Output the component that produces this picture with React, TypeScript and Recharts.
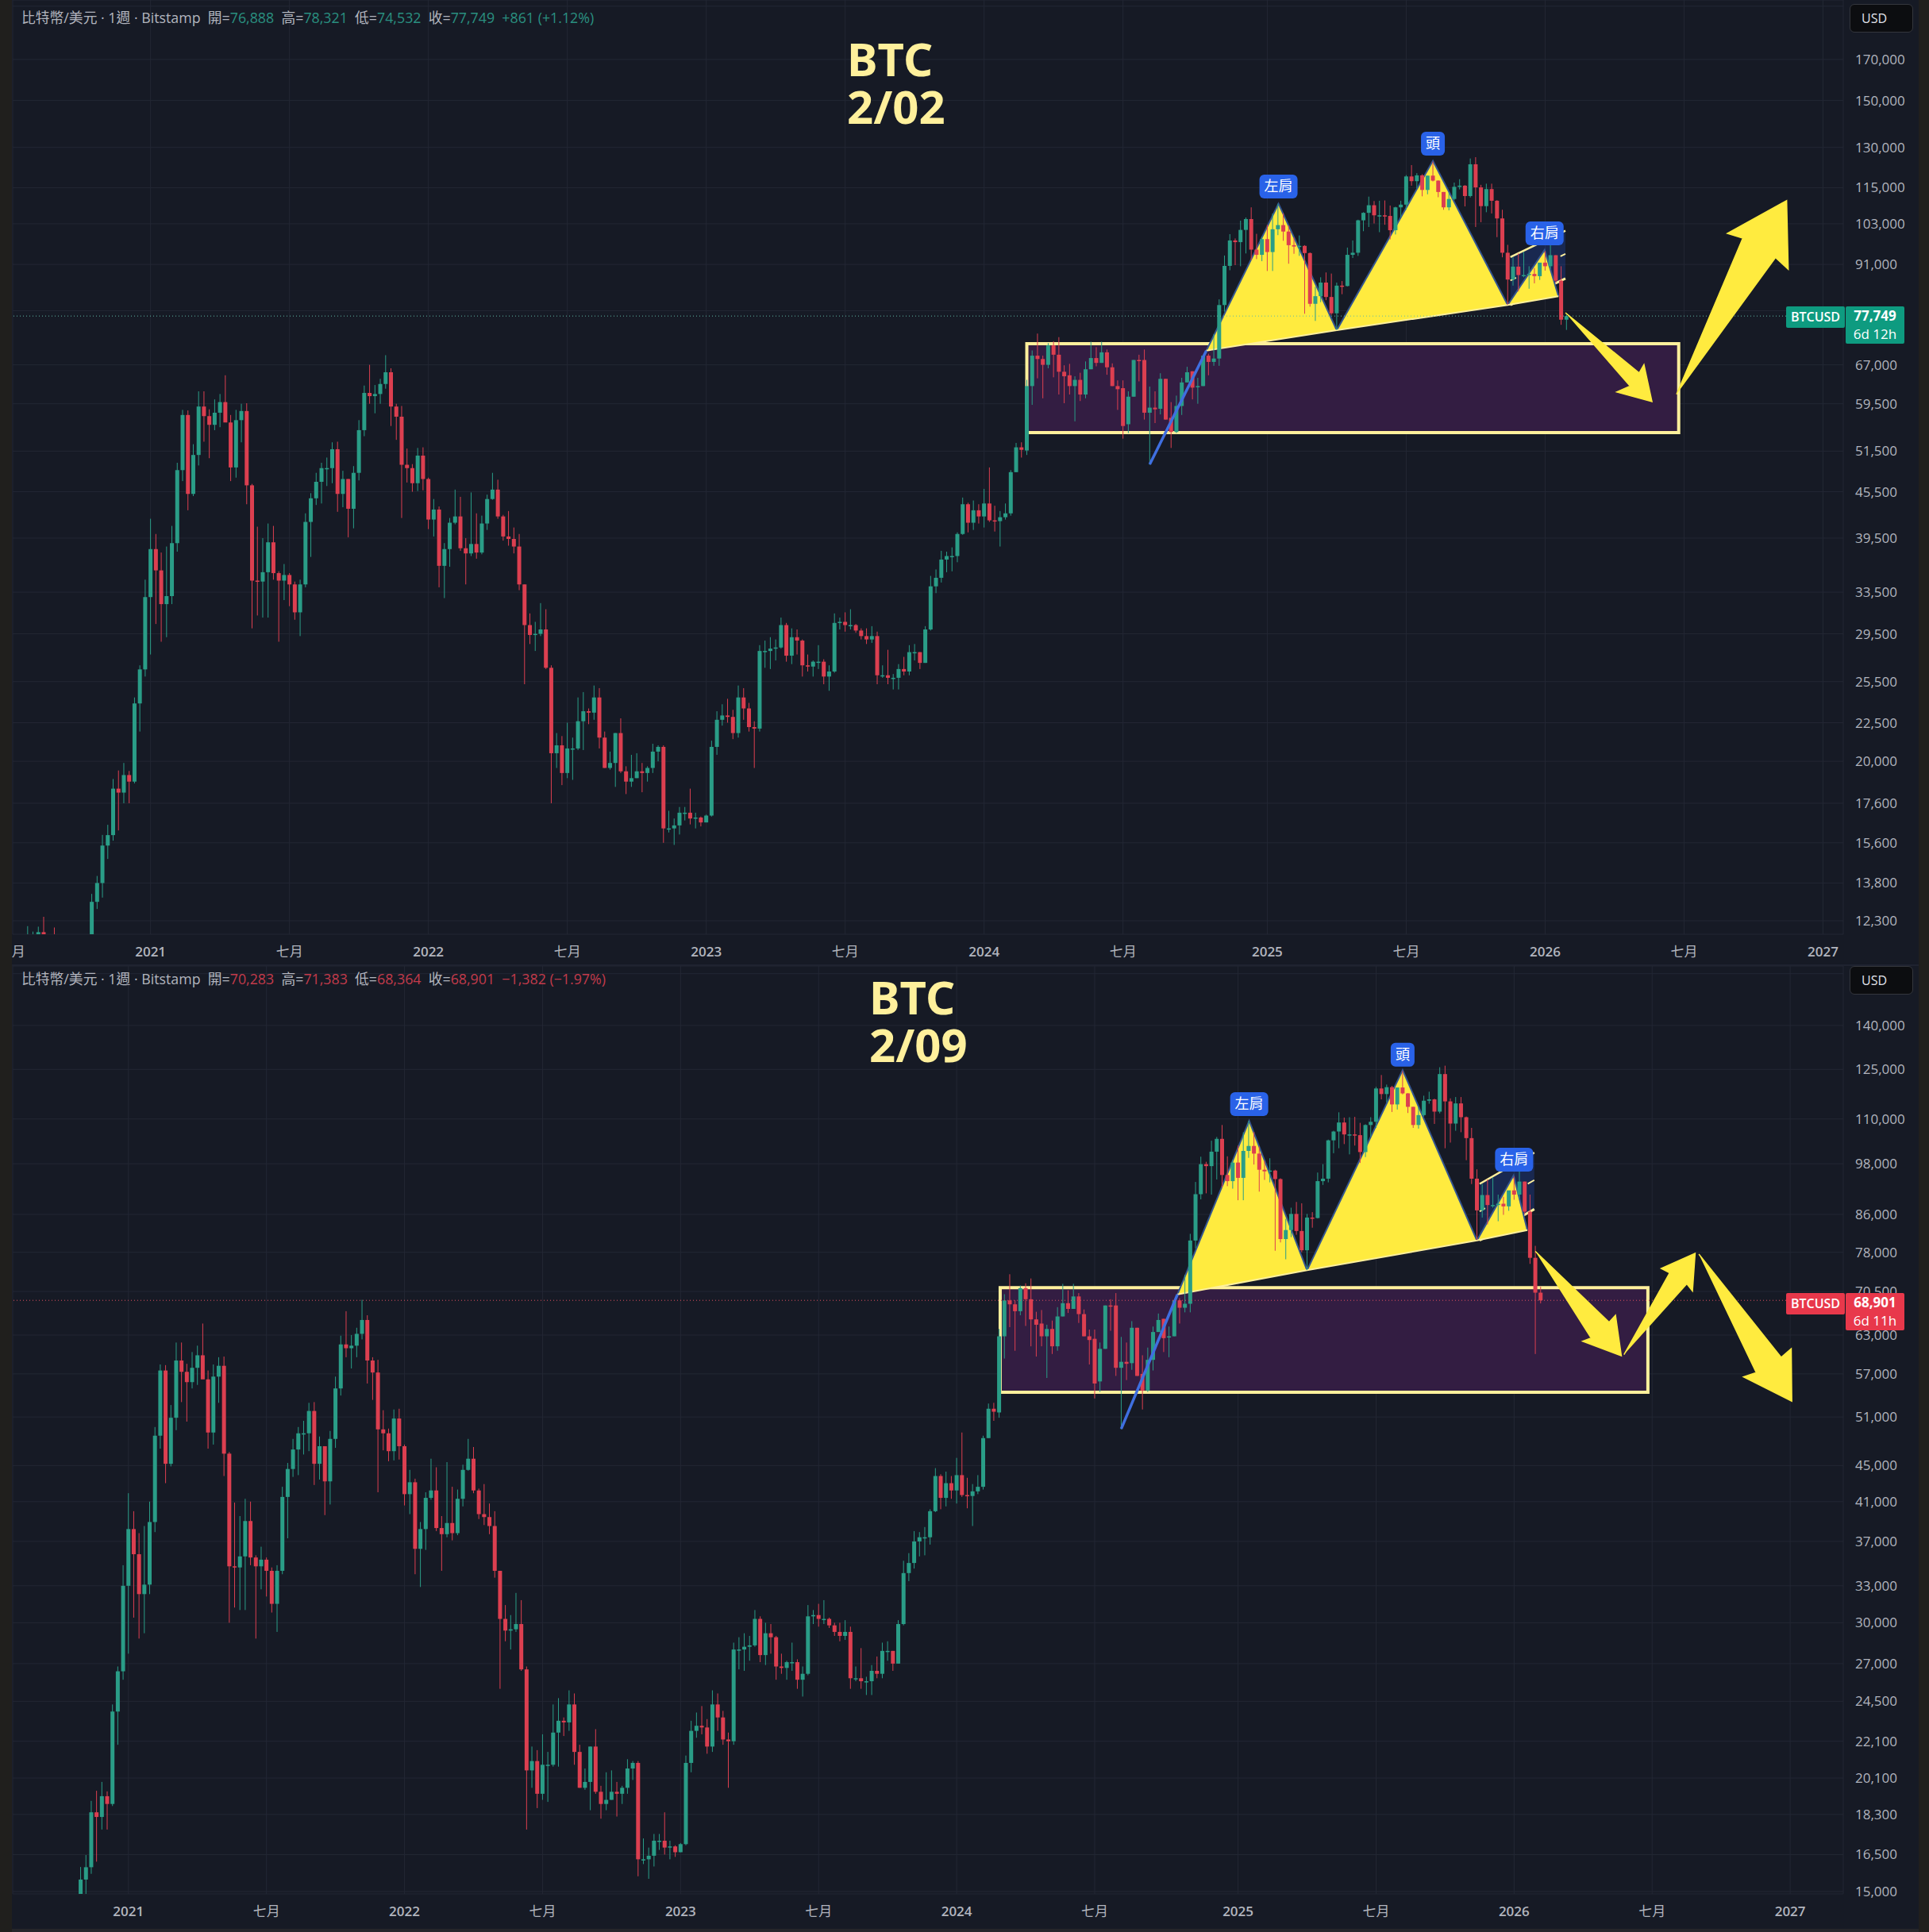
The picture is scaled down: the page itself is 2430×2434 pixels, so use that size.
import { Bar, CartesianGrid, ComposedChart, ReferenceArea, ReferenceLine, Scatter, XAxis, YAxis } from 'recharts'

// Velas semanais BTC/USD (Bitstamp). Índice 0 = semana de 04/01/2021.
const firstWeek = -23

const opens = [
  10950, 11060, 11640, 11880, 11650, 11700, 10280, 10320, 10780, 10770, 10670, 11380, 11500, 13030, 13800, 15470, 15970, 18400, 18180, 19180, 18800, 23860, 26470,
  33000, 38200, 35800, 32300, 33100, 38900, 48600, 57500, 45200, 50900, 59000, 57300, 55800, 57900, 59800, 56200, 49000, 56600, 58200, 46400, 34700, 34600, 35600, 39000, 35500, 34700, 35300, 34300, 31500, 34300, 41500, 44600, 46900, 48900, 48900, 51800, 45200, 47300, 43200, 48200, 54900, 61500, 60900, 61300, 63200, 65500, 59000, 57200, 49400, 48900, 46700, 50800,
  47300, 41800, 43100, 36300, 38200, 41400, 42200, 38300, 37700, 38800, 37800, 41300, 44500, 45800, 42200, 39700, 39400, 38500, 34300, 30300, 29400, 29500, 29900, 26600, 20500, 21000, 19300, 20800, 20800, 22600, 23300, 23200, 24300, 21500, 19600, 19900, 21800, 19400, 18800, 19000, 19400, 19300, 19600, 20600, 20900, 16300, 16300, 16450, 17100, 17100, 16800, 16850,
  16600, 16950, 20900, 22700, 23000, 22900, 21800, 24300, 23500, 22200, 22100, 28000, 28000, 28200, 28300, 30300, 27600, 29200, 28900, 26800, 26700, 27100, 27100, 25900, 26300, 30500, 30600, 30300, 30300, 29800, 29300, 29000, 29300, 26000, 26000, 25800, 25800, 26500, 26300, 27900, 27900, 27000, 29900, 34100, 35000, 37000, 37400, 37400, 40000, 43800, 41400, 43000,
  42200, 43900, 41700, 41600, 42100, 42600, 48300, 52100, 51600, 62800, 68900, 68200, 67000, 71100, 69100, 65600, 64900, 62800, 64000, 61200, 66100, 68400, 67400, 69600, 66500, 62800, 62400, 55900, 60800, 68000, 68000, 57900, 58800, 58600, 64200, 57000, 54600, 59100, 63500, 65700, 62600, 62800, 68900, 67600, 68300, 80400, 90600, 97900, 97400, 101100, 104500, 95200, 93700,
  98300, 94500, 101300, 102600, 100600, 96500, 96100, 96300, 94200, 80700, 82600, 86100, 82400, 78400, 85300, 85200, 93700, 94300, 104100, 106500, 109000, 105700, 105700, 105500, 101000, 108300, 109200, 119000, 117300, 119400, 114200, 119300, 117500, 113500, 108300, 111100, 115300, 115700, 112100, 123500, 115100, 108700, 114500, 110500, 104700, 94300, 86900, 90400, 88100, 88100, 88400, 87800, 91500, 90500, 93600, 86600,
]
const highs = [
  12100, 11900, 12080, 12450, 11800, 12050, 10600, 11180, 10800, 10950, 11500, 11720, 13350, 14100, 15980, 16480, 18950, 19450, 19900, 19420, 24300, 26800, 34800,
  41900, 40000, 37800, 38500, 41000, 49700, 58400, 58300, 52600, 61800, 61800, 58500, 60300, 61300, 64900, 57500, 58400, 59500, 59600, 46600, 40900, 39500, 41300, 41000, 35700, 36500, 35500, 34600, 34800, 42600, 45300, 48200, 49700, 50500, 52900, 53000, 48500, 47300, 49200, 56600, 62900, 67000, 63000, 64200, 69000, 66300, 59500, 59100, 51900, 49500, 52000, 52100,
  47500, 44500, 43500, 38900, 42000, 45800, 44800, 39500, 45400, 42600, 42300, 45100, 48200, 47200, 42400, 42900, 40800, 40000, 34300, 31400, 30600, 32400, 31800, 26800, 21800, 21600, 22500, 21500, 24300, 24700, 23500, 25200, 25000, 21900, 20600, 21800, 22800, 19700, 20400, 20500, 19900, 19700, 21100, 21000, 21000, 17200, 16800, 17400, 17400, 18400, 17100, 16900,
  17000, 21300, 23300, 23800, 24200, 23400, 25200, 25000, 23900, 22600, 28500, 28900, 29200, 29000, 31000, 30500, 30000, 29900, 29000, 27700, 27200, 28500, 27300, 26800, 31400, 31000, 31500, 31800, 30400, 30000, 30000, 30200, 29700, 26800, 28100, 26100, 26900, 27500, 28500, 28600, 27900, 30200, 35200, 35900, 38000, 37900, 38400, 40200, 44700, 44000, 44300, 43800,
  45900, 49000, 43600, 42900, 43900, 48600, 52800, 52900, 64000, 70000, 73700, 68900, 71600, 72000, 72900, 66900, 67200, 64700, 65400, 67700, 71900, 70700, 71900, 70200, 67300, 63900, 63900, 61800, 68000, 69100, 70200, 62700, 61800, 65300, 64200, 59800, 61000, 64400, 66600, 65700, 64400, 68900, 69300, 73600, 81800, 93500, 99800, 98500, 104000, 105000, 108300, 99900, 99000,
  102700, 106300, 109500, 106400, 102500, 98800, 99400, 96500, 94400, 85000, 87500, 88800, 88500, 86100, 86500, 95800, 97900, 104300, 106700, 111900, 110400, 110500, 110600, 108900, 108500, 110500, 119500, 123200, 120200, 119800, 119300, 124500, 117600, 113500, 113400, 116800, 118000, 115900, 125700, 126200, 116000, 116400, 116400, 110700, 107500, 96600, 93000, 94100, 94600, 90500, 90000, 90400, 94800, 97900, 93600, 90500,
]
const lows = [
  10600, 11000, 11150, 11300, 11150, 9900, 9850, 10200, 10130, 10350, 10530, 11200, 11400, 12750, 13200, 14850, 15700, 16200, 17600, 17600, 18700, 21900, 25900,
  27700, 30400, 28800, 29200, 32300, 37900, 47000, 43000, 44900, 49300, 53000, 50400, 54900, 55400, 58900, 47000, 47500, 52900, 43800, 30000, 31200, 31000, 31000, 34800, 28800, 32700, 32100, 30800, 29300, 34000, 37300, 43700, 43900, 46300, 46700, 42800, 43400, 39600, 40700, 47100, 53900, 59500, 57800, 59500, 62300, 55600, 53300, 42000, 46800, 45500, 45600, 45700,
  40600, 39700, 34000, 32900, 36200, 41200, 38000, 34300, 37400, 37100, 37600, 40500, 44400, 41900, 39200, 38600, 37700, 33700, 25300, 28600, 28000, 29300, 26500, 17600, 19600, 18600, 19000, 18900, 20700, 20700, 22400, 22700, 20800, 19600, 19500, 18500, 19300, 18100, 18500, 19000, 18200, 18800, 19300, 20000, 15600, 16100, 15500, 16000, 16700, 16500, 16300, 16400,
  16600, 16900, 20400, 22300, 22500, 21400, 21500, 22700, 21900, 19600, 21900, 26600, 26500, 27200, 28200, 27100, 26900, 27700, 25900, 26300, 25900, 26500, 25300, 24800, 26200, 29900, 29700, 29900, 29600, 29000, 28600, 28700, 25300, 25800, 25300, 24900, 24900, 26000, 26000, 27200, 26500, 27000, 29800, 33400, 34500, 35600, 35700, 36700, 39900, 40200, 40500, 41300,
  40800, 41500, 40300, 38500, 41800, 42300, 48300, 50500, 50900, 59300, 64300, 60500, 66300, 64500, 61200, 59600, 61200, 56400, 60000, 60500, 66100, 66700, 67400, 65000, 62800, 58400, 53500, 54400, 60800, 63700, 56700, 49400, 56100, 57600, 56700, 52000, 54400, 57500, 63500, 60300, 59500, 62800, 64900, 66800, 66800, 78800, 89400, 90800, 90500, 94100, 92200, 92500, 91900,
  89200, 89200, 99500, 97800, 91200, 94000, 93400, 78300, 80000, 76600, 81100, 81600, 78000, 74500, 83100, 85100, 92800, 93400, 100700, 102000, 103100, 100400, 102700, 98200, 99700, 105100, 107500, 115700, 114800, 112000, 112700, 117200, 111700, 107500, 107300, 110700, 114400, 108600, 111600, 102000, 103500, 106700, 106300, 98900, 93000, 80500, 85300, 83800, 87500, 84500, 85900, 86800, 89300, 89600, 86000, 75700,
]
const closes = [
  11060, 11640, 11880, 11650, 11700, 10280, 10320, 10780, 10770, 10670, 11380, 11500, 13030, 13800, 15470, 15970, 18400, 18180, 19180, 18800, 23860, 26470, 33000,
  38200, 35800, 32300, 33100, 38900, 48600, 57500, 45200, 50900, 59000, 57300, 55800, 57900, 59800, 56200, 49000, 56600, 58200, 46400, 34700, 34600, 35600, 39000, 35500, 34700, 35300, 34300, 31500, 34300, 41500, 44600, 46900, 48900, 48900, 51800, 45200, 47300, 43200, 48200, 54900, 61500, 60900, 61300, 63200, 65500, 59000, 57200, 49400, 48900, 46700, 50800, 47300,
  41800, 43100, 36300, 38200, 41400, 42200, 38300, 37700, 38800, 37800, 41300, 44500, 45800, 42200, 39700, 39400, 38500, 34300, 30300, 29400, 29500, 29900, 26600, 20500, 21000, 19300, 20800, 20800, 22600, 23300, 23200, 24300, 21500, 19600, 19900, 21800, 19400, 18800, 19000, 19400, 19300, 19600, 20600, 20900, 16300, 16300, 16450, 17100, 17100, 16800, 16850, 16600,
  16950, 20900, 22700, 23000, 22900, 21800, 24300, 23500, 22200, 22100, 28000, 28000, 28200, 28300, 30300, 27600, 29200, 28900, 26800, 26700, 27100, 27100, 25900, 26300, 30500, 30600, 30300, 30300, 29800, 29300, 29000, 29300, 26000, 26000, 25800, 25800, 26500, 26300, 27900, 27900, 27000, 29900, 34100, 35000, 37000, 37400, 37400, 40000, 43800, 41400, 43000, 42200,
  43900, 41700, 41600, 42100, 42600, 48300, 52100, 51700, 62800, 68900, 68200, 67000, 71100, 69100, 65600, 64700, 62800, 64000, 61200, 66100, 68400, 67400, 69600, 66500, 62800, 62200, 55600, 60800, 68000, 67900, 57900, 58800, 58500, 64200, 56700, 54600, 59100, 63500, 65500, 62500, 62800, 68900, 67600, 68300, 80400, 90600, 97900, 97400, 101100, 104500, 95200, 93700, 98300,
  94500, 101300, 102600, 100600, 96500, 96100, 96300, 94200, 80700, 82600, 86100, 82400, 78400, 85300, 85200, 93700, 94300, 104100, 106500, 109000, 105700, 105700, 105500, 101000, 108300, 109200, 119000, 117300, 119400, 114200, 119300, 117500, 113500, 108300, 111100, 115300, 115700, 112100, 123500, 115100, 108700, 114500, 110500, 104700, 94300, 86900, 90400, 88100, 88100, 88400, 87800, 91500, 90500, 93600, 86600, 76888,
]

// Últimas velas de cada painel: [abertura, máxima, mínima, fechamento]
const lastBarsTop = [[76888, 78321, 74532, 77749]]
const lastBarsBottom = [[76888, 79300, 60000, 70283], [70283, 71383, 68364, 68901]]

const timeTickValues = [-26, 0, 26, 52, 78, 104, 130, 156, 182, 209, 235, 261, 287, 313]
const timeTickLabels = ['七月', '2021', '七月', '2022', '七月', '2023', '七月', '2024', '七月', '2025', '七月', '2026', '七月', '2027']

const priceTicksTop = [200000, 170000, 150000, 130000, 115000, 103000, 91000, 79000, 67000, 59500, 51500, 45500, 39500, 33500, 29500, 25500, 22500, 20000, 17600, 15600, 13800, 12300]
const priceTicksBottom = [160000, 140000, 125000, 110000, 98000, 86000, 78000, 70500, 63000, 57000, 51000, 45000, 41000, 37000, 33000, 30000, 27000, 24500, 22100, 20100, 18300, 16500, 15000]
// Só linha de grade, o rótulo fica atrás da caixa USD
const gridOnlyPrices = [200000, 160000]

// Desenhos do padrão OCO (semana, preço)
const leftShoulder = [{ i: 197.6, p: 69970 }, { i: 211.1, p: 109500 }, { i: 222, p: 74460 }]
const headPeak = [{ i: 222, p: 74460 }, { i: 240, p: 124800 }, { i: 254, p: 80410 }]
const rightShoulder = [{ i: 254, p: 80410 }, { i: 260.9, p: 95100 }, { i: 263.5, p: 82570 }]
const neckline = [{ i: 197.6, p: 69970 }, { i: 222, p: 74460 }, { i: 254, p: 80410 }, { i: 263.5, p: 82570 }]
const blueTrend = [{ i: 187, p: 49470 }, { i: 197.6, p: 69970 }]
const channelBand = [{ i: 254.5, p: 93040 }, { i: 264.8, p: 100860 }, { i: 264.8, p: 87160 }, { i: 254.5, p: 80410 }]
const channelUpper = [{ i: 254.5, p: 93040 }, { i: 264.8, p: 100860 }]
const channelMiddle = [{ i: 254.5, p: 86660 }, { i: 264.8, p: 93950 }]
const channelLower = [{ i: 254.5, p: 80410 }, { i: 264.8, p: 87160 }]

const arrowsTop = [
  [{ i: 264.8, p: 78540 }, { i: 278.6, p: 65350 }, { i: 279.5, p: 67060 }, { i: 281, p: 59890 }, { i: 274.4, p: 61660 }, { i: 276.8, p: 62740 }],
  [{ i: 285.6, p: 61250 }, { i: 298, p: 98600 }, { i: 295.1, p: 100040 }, { i: 306.2, p: 110570 }, { i: 306.5, p: 89660 }, { i: 304.2, p: 92800 }],
]
const arrowsBottom = [
  [{ i: 265, p: 78190 }, { i: 278.9, p: 65110 }, { i: 280.1, p: 66300 }, { i: 281.2, p: 59730 }, { i: 273.9, p: 62000 }, { i: 275.4, p: 62480 }],
  [{ i: 281.7, p: 59900 }, { i: 290.3, p: 73960 }, { i: 288.7, p: 74810 }, { i: 295.1, p: 77800 }, { i: 294.6, p: 70570 }, { i: 293.6, p: 71820 }],
  [{ i: 295.8, p: 77630 }, { i: 311.3, p: 59490 }, { i: 313.2, p: 60840 }, { i: 313.3, p: 53120 }, { i: 304.2, p: 56560 }, { i: 306.5, p: 57150 }],
]

const labelsTop = [{ i: 211.1, p: 115400, text: '左肩' }, { i: 240, p: 131500, text: '頭' }, { i: 260.9, p: 100050, text: '右肩' }]
const labelsBottom = [{ i: 211.1, p: 114300, text: '左肩' }, { i: 240, p: 129800, text: '頭' }, { i: 261, p: 99050, text: '右肩' }]

const UP = '#2a9d87'
const DOWN = '#dc3f50'
const BG = '#161a25'
const GRID = '#232734'
const YELLOW = '#ffeb3f'
const PALE = '#fff09c'
const FONT = '"Open Sans", "Noto Sans CJK TC", sans-serif'
const BODY_WIDTH = 5

function buildRows(lastBars: number[][], from: number) {
  const rows = opens.map((o, n) => ({ i: firstWeek + n, o, h: highs[n], l: lows[n], c: closes[n] }))
  lastBars.forEach((b, n) => rows.push({ i: firstWeek + opens.length + n, o: b[0], h: b[1], l: b[2], c: b[3] }))
  return rows.filter((r) => r.i >= from).map((r) => ({ ...r, range: [r.l, r.h] }))
}

function Candle(props: any) {
  const { x, y, width, height, payload } = props
  if (!payload || !Number.isFinite(y) || !Number.isFinite(height)) return null
  const { o, h, l, c } = payload
  const span = Math.log(h / l) || 1
  const yOf = (v: number) => y + (height * Math.log(h / v)) / span
  const color = c >= o ? UP : DOWN
  const top = Math.min(yOf(o), yOf(c))
  const bodyH = Math.max(Math.abs(yOf(o) - yOf(c)), 1.5)
  const mid = x + width / 2
  return (
    <g>
      <line x1={mid} x2={mid} y1={y} y2={y + height} stroke={color} strokeWidth={1} />
      <rect x={mid - BODY_WIDTH / 2} y={top} width={BODY_WIDTH} height={bodyH} fill={color} />
    </g>
  )
}

function NoDot() {
  return null
}

function PatternLabel(props: any) {
  const { cx, cy, payload } = props
  const w = payload.text.length > 1 ? 48 : 30
  return (
    <g>
      <rect x={cx - w / 2} y={cy - 15} width={w} height={30} rx={6} fill="#2962e8" />
      <text x={cx} y={cy + 6} textAnchor="middle" fontSize={18} fontFamily={FONT} fill="#ffffff">{payload.text}</text>
    </g>
  )
}

function TimeTick(props: any) {
  const { x, y, payload } = props
  const label = timeTickLabels[timeTickValues.indexOf(payload.value)]
  const isYear = label && label.length === 4
  return (
    <text x={x} y={y + 26} textAnchor="middle" fontSize={17} fontFamily={FONT} fontWeight={isYear ? 600 : 400} fill="#b2b5be">{label}</text>
  )
}

interface PanelProps {
  rows: any[]
  xDomain: number[]
  yDomain: number[]
  priceTicks: number[]
  box: { x1: number; x2: number; y1: number; y2: number }
  arrows: { i: number; p: number }[][]
  labels: { i: number; p: number; text: string }[]
  last: number
  lastColor: string
  height: number
  axisHeight: number
}

function Panel({ rows, xDomain, yDomain, priceTicks, box, arrows, labels, last, lastColor, height, axisHeight }: PanelProps) {
  const patches = [leftShoulder, headPeak, rightShoulder]
  return (
    <ComposedChart width={2430} height={height} data={rows} margin={{ top: 0, right: 0, bottom: 0, left: 16 }}>
      <CartesianGrid stroke={GRID} strokeWidth={1} />
      <XAxis dataKey="i" type="number" domain={xDomain} ticks={timeTickValues} interval={0} allowDataOverflow height={axisHeight} axisLine={false} tickLine={false} tickSize={0} tick={TimeTick} />
      <YAxis orientation="right" type="number" scale="log" domain={yDomain} ticks={priceTicks} interval={0} allowDataOverflow width={108} axisLine={false} tickLine={false} tickSize={0} tickMargin={15} tick={{ fill: '#b2b5be', fontSize: 17, fontFamily: FONT }} tickFormatter={(v: number) => (gridOnlyPrices.includes(v) ? '' : v.toLocaleString('en-US'))} />
      <ReferenceArea x1={box.x1} x2={box.x2} y1={box.y1} y2={box.y2} fill="#331d42" fillOpacity={1} stroke={PALE} strokeWidth={4} zIndex={50} />
      <Scatter data={channelBand} dataKey="p" shape={NoDot} isAnimationActive={false} line={{ fill: '#2962ff', fillOpacity: 0.2, stroke: 'none' }} zIndex={100} />
      <Scatter data={channelUpper} dataKey="p" shape={NoDot} isAnimationActive={false} line={{ stroke: PALE, strokeWidth: 2.5 }} zIndex={110} />
      <Scatter data={channelMiddle} dataKey="p" shape={NoDot} isAnimationActive={false} line={{ stroke: PALE, strokeWidth: 2, strokeDasharray: '8 62 10' }} zIndex={110} />
      <Scatter data={channelLower} dataKey="p" shape={NoDot} isAnimationActive={false} line={{ stroke: PALE, strokeWidth: 3 }} zIndex={110} />
      {patches.map((pts, n) => (
        <Scatter key={n} data={pts} dataKey="p" shape={NoDot} isAnimationActive={false} line={{ fill: YELLOW, stroke: '#35568f', strokeWidth: 2 }} zIndex={120} />
      ))}
      <Scatter data={neckline} dataKey="p" shape={NoDot} isAnimationActive={false} line={{ stroke: PALE, strokeWidth: 2 }} zIndex={130} />
      <Bar dataKey="range" barSize={5} shape={Candle} isAnimationActive={false} zIndex={700} />
      <Scatter data={blueTrend} dataKey="p" shape={NoDot} isAnimationActive={false} line={{ stroke: '#3f6fe0', strokeWidth: 3.5 }} zIndex={710} />
      <ReferenceLine y={last} stroke={lastColor} strokeDasharray="1 3" strokeWidth={1} zIndex={720} />
      {arrows.map((pts, n) => (
        <Scatter key={n} data={pts} dataKey="p" shape={NoDot} isAnimationActive={false} line={{ fill: YELLOW, stroke: YELLOW, strokeWidth: 1.5 }} zIndex={800} />
      ))}
      <Scatter data={labels} dataKey="p" shape={PatternLabel} isAnimationActive={false} zIndex={900} />
    </ComposedChart>
  )
}

function Legend({ top, values, change, color }: { top: number; values: string[]; change: string; color: string }) {
  const names = ['開=', '高=', '低=', '收=']
  return (
    <div style={{ position: 'absolute', left: 27, top, fontFamily: FONT, fontSize: 17.8, lineHeight: '22px', color: '#b2b5be', whiteSpace: 'pre' }}>
      比特幣/美元 · 1週 · Bitstamp{'  '}
      {names.map((n, k) => (
        <span key={n}>{n}<span style={{ color }}>{values[k]}</span>{'  '}</span>
      ))}
      <span style={{ color }}>{change}</span>
    </div>
  )
}

function Title({ left, top, lines }: { left: number; top: number; lines: string[] }) {
  return (
    <div style={{ position: 'absolute', left, top, fontFamily: '"Noto Sans", sans-serif', fontSize: 58, lineHeight: '60px', color: PALE, fontWeight: 700, whiteSpace: 'pre' }}>
      {lines.map((t) => <div key={t}>{t}</div>)}
    </div>
  )
}

function PriceTag({ top, color, price, timer }: { top: number; color: string; price: string; timer: string }) {
  return (
    <>
      <div style={{ position: 'absolute', left: 2250, top, width: 74, height: 27, background: color, borderRadius: 2, color: '#fff', fontFamily: FONT, fontSize: 16, fontWeight: 600, lineHeight: '27px', textAlign: 'center' }}>BTCUSD</div>
      <div style={{ position: 'absolute', left: 2325, top, width: 74, height: 47, background: color, borderRadius: 2, color: '#fff', fontFamily: FONT, fontSize: 17, lineHeight: '23px', textAlign: 'center' }}>
        <div style={{ fontWeight: 700 }}>{price}</div>
        <div>{timer}</div>
      </div>
    </>
  )
}

function UsdBox({ top }: { top: number }) {
  return (
    <div style={{ position: 'absolute', left: 2330, top, width: 80, height: 36, boxSizing: 'border-box', background: '#0c0d10', border: '1px solid #34363d', borderRadius: 6, color: '#e0e3eb', fontFamily: FONT, fontSize: 16, lineHeight: '34px', paddingLeft: 14 }}>USD</div>
  )
}

export default function App() {
  return (
    <div style={{ position: 'absolute', left: 0, top: 0, width: 2430, height: 2434, background: BG, overflow: 'hidden' }}>
      <div style={{ position: 'absolute', left: 0, top: 0 }}>
        <Panel
          rows={buildRows(lastBarsTop, firstWeek)}
          xDomain={[-25.8, 316.8]}
          yDomain={[11804, 203800]}
          priceTicks={priceTicksTop}
          box={{ x1: 164, x2: 286, y1: 54490, y2: 71460 }}
          arrows={arrowsTop}
          labels={labelsTop}
          last={77749}
          lastColor="#5fb8a6"
          height={1215}
          axisHeight={38}
        />
      </div>
      <div style={{ position: 'absolute', left: 0, top: 1217 }}>
        <Panel
          rows={buildRows(lastBarsBottom, -20)}
          xDomain={[-21.8, 323]}
          yDomain={[14908, 163200]}
          priceTicks={priceTicksBottom}
          box={{ x1: 164.2, x2: 286.2, y1: 54370, y2: 71180 }}
          arrows={arrowsBottom}
          labels={labelsBottom}
          last={68901}
          lastColor="#e0505f"
          height={1213}
          axisHeight={44}
        />
      </div>

      <div style={{ position: 'absolute', left: 0, top: 1215, width: 2430, height: 2, background: '#1f2330' }} />
      <div style={{ position: 'absolute', left: 0, top: 2430, width: 2430, height: 4, background: '#26262a' }} />
      <div style={{ position: 'absolute', left: 0, top: 0, width: 15, height: 2434, background: '#201f1d' }} />
      <div style={{ position: 'absolute', left: 2417, top: 0, width: 13, height: 2434, background: '#201f1d' }} />

      <Legend top={11} values={['76,888', '78,321', '74,532', '77,749']} change="+861 (+1.12%)" color="#2a9080" />
      <Legend top={1222} values={['70,283', '71,383', '68,364', '68,901']} change="−1,382 (−1.97%)" color="#c23b4b" />
      <Title left={1067} top={44} lines={['BTC', '2/02']} />
      <Title left={1095} top={1226} lines={['BTC', '2/09']} />
      <UsdBox top={5} />
      <UsdBox top={1217} />
      <PriceTag top={386} color="#0e9b80" price="77,749" timer="6d 12h" />
      <PriceTag top={1629} color="#e8384b" price="68,901" timer="6d 11h" />
    </div>
  )
}
